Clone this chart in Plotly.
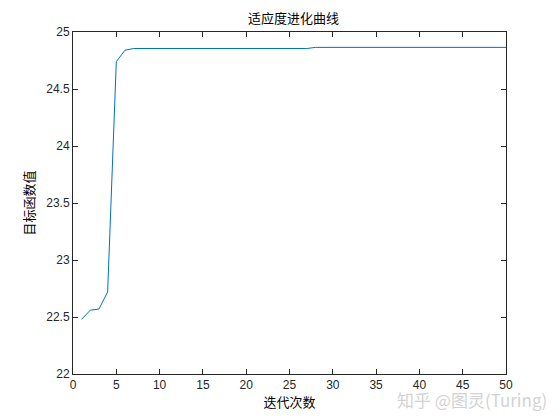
import plotly.graph_objects as go

# fitness per generation
generations = list(range(1, 51))
fitness = [22.48, 22.56, 22.57, 22.72, 24.74, 24.84, 24.855] + [24.855] * 20 + [24.865] * 23

x_ticks = [0, 5, 10, 15, 20, 25, 30, 35, 40, 45, 50]
y_ticks = [22, 22.5, 23, 23.5, 24, 24.5, 25]

cjk = "Noto Sans CJK SC"
latin = "Liberation Sans"

fig = go.Figure(data=[
    go.Scatter(
        x=generations,
        y=fitness,
        mode="lines",
        line=dict(color="#0072BD", width=1)
    )
])

axis_style = dict(
    showgrid=False,
    zeroline=False,
    showline=True,
    linecolor="#262626",
    linewidth=1,
    mirror="ticks",
    ticks="inside",
    ticklen=5,
    tickcolor="#262626",
    tickfont=dict(family=latin, size=12, color="#262626"),
)

# page body adds 8px on top/left, so margins are shifted to compensate
fig.update_layout(
    width=560,
    height=420,
    margin=dict(l=65, r=62, t=24, b=54),
    paper_bgcolor="white",
    plot_bgcolor="white",
    showlegend=False,
    title=dict(text="适应度进化曲线", x=0.51, xanchor="center", y=0.976, yanchor="middle",
               font=dict(family=cjk, size=13, color="black")),
    xaxis=dict(axis_style, range=[0, 50], tickvals=x_ticks,
               title=dict(text="迭代次数", standoff=2, font=dict(family=cjk, size=13, color="black"))),
    yaxis=dict(axis_style, range=[22, 25], tickvals=y_ticks,
               title=dict(text="目标函数值", standoff=8, font=dict(family=cjk, size=13, color="black"))),
)

# faint site watermark, bottom right
fig.add_annotation(
    text="知乎 @图灵(Turing)", xref="paper", yref="paper", x=1.1, y=-0.075,
    xanchor="right", yanchor="middle", showarrow=False,
    font=dict(family=cjk, size=17, color="rgba(195,195,195,0.75)")
)

fig.write_html("out.html")
